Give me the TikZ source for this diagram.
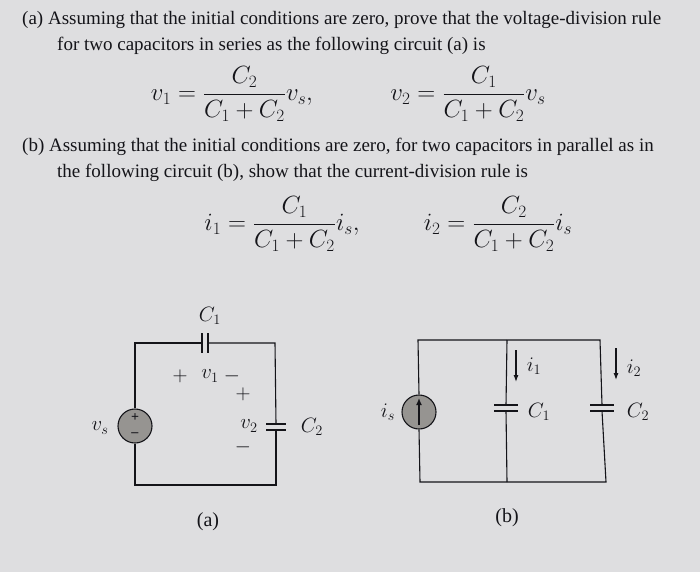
\documentclass[tikz,border=0pt]{standalone}
\usepackage{fontspec}
\setmainfont{Liberation Serif}
\usetikzlibrary{arrows.meta}
\definecolor{paper}{RGB}{222,222,224}
\definecolor{ink}{RGB}{20,20,25}
\definecolor{srcfill}{RGB}{150,148,145}
\tikzset{
  txt/.style={anchor=west,inner sep=0,text=ink,font=\fontsize{19}{22}\selectfont},
  eq/.style={inner sep=0,text=ink,font=\fontsize{23}{26}\selectfont},
  lbl/.style={inner sep=0,text=ink,font=\fontsize{20}{22}\selectfont},
  pm/.style={inner sep=0,text=ink,font=\fontsize{14}{16}\selectfont},
  wire/.style={draw=ink,line width=1.1pt},
  src/.style={circle,draw=ink,line width=1.1pt,fill=srcfill,minimum size=34pt,inner sep=0},
  plate/.style={draw=ink,line width=1.3pt},
}
\begin{document}
\begin{tikzpicture}[x=1pt,y=-1pt]
\fill[paper] (0,0) rectangle (700,572);
\useasboundingbox (0,0) rectangle (700,572);
% text
\node[txt] (t1) at (22,20) {(a) Assuming that the initial conditions are zero, prove that the voltage-division rule};
\node[txt] (t2) at (57,46) {for two capacitors in series as the following circuit (a) is};
\node[eq] (e1) at (232,94) {$\displaystyle v_1=\frac{C_2}{C_1+C_2}v_s,$};
\node[eq] (e2) at (468,94) {$\displaystyle v_2=\frac{C_1}{C_1+C_2}v_s$};
\node[txt] (t3) at (22,147) {(b) Assuming that the initial conditions are zero, for two capacitors in parallel as in};
\node[txt] (t4) at (57,173) {the following circuit (b), show that the current-division rule is};
\node[eq] (e3) at (282,224) {$\displaystyle i_1=\frac{C_1}{C_1+C_2}i_s,$};
\node[eq] (e4) at (498,224) {$\displaystyle i_2=\frac{C_2}{C_1+C_2}i_s$};
% circuit (a)
\coordinate (a1) at (135,343); \coordinate (a2) at (275,343);
\coordinate (a3) at (276,485); \coordinate (a4) at (135,485);
\node[src] (vs) at (135,426) {};
\node[pm] at (135,418) {\textbf{+}}; \node[pm] at (135,435) {\textbf{--}};
\coordinate (c1l) at (202,343); \coordinate (c1r) at (208,343);
\coordinate (c2t) at (276,424); \coordinate (c2b) at (276,430);
\draw[wire] (vs.north) -- (a1) -- (c1l);
\draw[wire] (c1r) -- (a2) -- (c2t);
\draw[wire] (c2b) -- (a3) -- (a4) -- (vs.south);
\draw[plate] (202,333) -- (202,353) (208,333) -- (208,353);
\draw[plate] (266,424) -- (286,424) (266,430) -- (286,430);
\node[lbl] (lc1) at (210,316) {$C_1$};
\node[lbl] at (180,376) {$+$};
\node[lbl] at (210,376) {$v_1$};
\node[lbl] at (232,376) {$-$};
\node[lbl] at (243,394) {$+$};
\node[lbl] at (249,426) {$v_2$};
\node[lbl] at (243,447) {$-$};
\node[lbl] (lc2) at (312,427) {$C_2$};
\node[lbl] at (100,428) {$v_s$};
\node[lbl] at (208,522) {(a)};
% circuit (b)
\coordinate (b1) at (418,340); \coordinate (bm) at (507,340); \coordinate (b2) at (600,340);
\coordinate (b3) at (606,482); \coordinate (bmb) at (507,482); \coordinate (b4) at (420,482);
\node[src] (is) at (419,412) {};
\draw[ink,line width=1.6pt,-{Latex[length=7pt,width=6pt]}] (419,425) -- (419,398);
\draw[wire] (is.north) -- (b1) -- (bm) -- (b2) -- (602,405);
\draw[wire] (602,411) -- (b3) -- (bmb) -- (b4) -- (is.south);
\draw[wire] (bm) -- (506,405); \draw[wire] (506,411) -- (bmb);
\draw[plate] (494,405) -- (518,405) (494,411) -- (518,411);
\draw[plate] (590,405) -- (614,405) (590,411) -- (614,411);
\draw[ink,line width=1.1pt,-{Latex[length=7pt,width=5pt]}] (516,350) -- (516,382);
\draw[ink,line width=1.1pt,-{Latex[length=7pt,width=5pt]}] (616,348) -- (616,380);
\node[lbl] at (534,366) {$i_1$};
\node[lbl] at (634,368) {$i_2$};
\node[lbl] at (539,412) {$C_1$};
\node[lbl] at (638,412) {$C_2$};
\node[lbl] at (388,412) {$i_s$};
\node[lbl] at (507,518) {(b)};
\end{tikzpicture}
\end{document}
